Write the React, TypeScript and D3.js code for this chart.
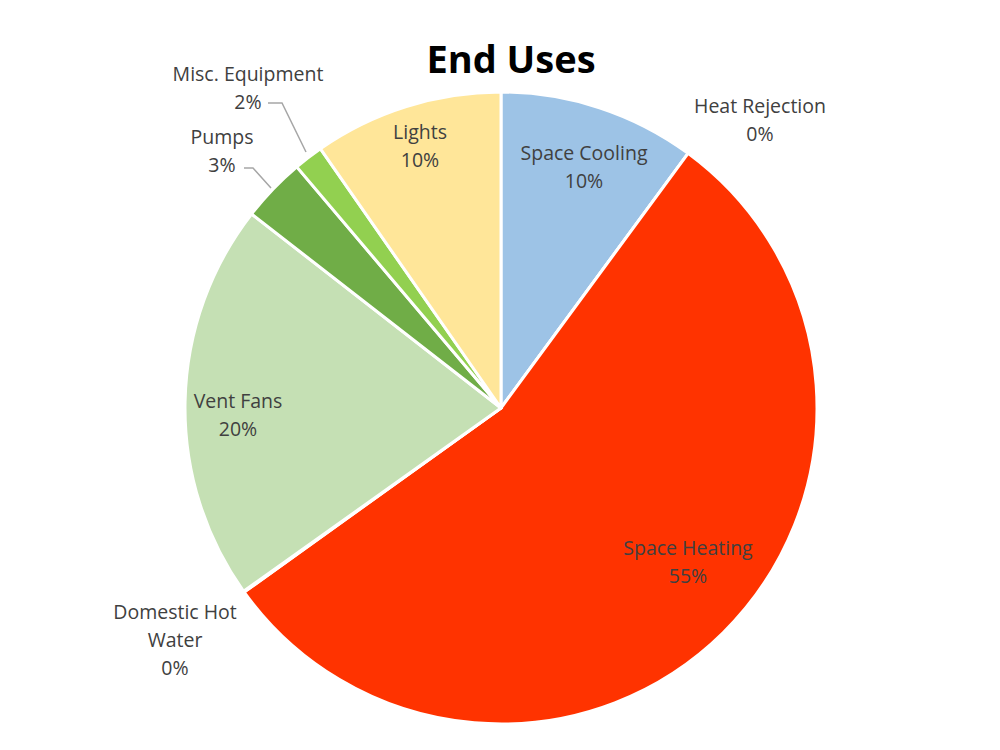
import * as d3 from "d3"
import { useRef, useEffect } from "react"

const categories = [
  "Space Cooling",
  "Heat Rejection",
  "Space Heating",
  "Domestic Hot Water",
  "Vent Fans",
  "Pumps",
  "Misc. Equipment",
  "Lights",
]
const shares = [10.1, 0.0, 55.1, 0.05, 20.4, 3.3, 1.5, 9.7]
const percentLabels = ["10%", "0%", "55%", "0%", "20%", "3%", "2%", "10%"]
const colors = ["#9DC3E6", "#C55A11", "#FF3300", "#5B9BD5", "#C5E0B4", "#70AD47", "#92D050", "#FFE699"]

type Slice = { name: string; value: number; pct: string; color: string }

// label anchor points relative to pie center, and text lines
const labelSpots: Record<string, { dx: number; dy: number; lines: string[] }> = {
  "Space Cooling": { dx: 83, dy: -241, lines: ["Space Cooling"] },
  "Heat Rejection": { dx: 259, dy: -288, lines: ["Heat Rejection"] },
  "Space Heating": { dx: 187, dy: 154, lines: ["Space Heating"] },
  "Domestic Hot Water": { dx: -326, dy: 232, lines: ["Domestic Hot", "Water"] },
  "Vent Fans": { dx: -263, dy: 7, lines: ["Vent Fans"] },
  Pumps: { dx: -279, dy: -257, lines: ["Pumps"] },
  "Misc. Equipment": { dx: -253, dy: -320, lines: ["Misc. Equipment"] },
  Lights: { dx: -81, dy: -262, lines: ["Lights"] },
}

// leader lines for the small outside labels
const leaders: Record<string, [number, number][]> = {
  Pumps: [[-257, -240], [-248, -240], [-230, -220]],
  "Misc. Equipment": [[-233, -305], [-219, -305], [-195, -256]],
}

export default function App() {
  const svgRef = useRef<SVGSVGElement>(null)

  useEffect(() => {
    if (!svgRef.current) return
    const width = 1000
    const height = 750
    const cx = 501
    const cy = 408
    const radius = 316

    const data: Slice[] = categories.map((c, i) => ({
      name: c,
      value: shares[i],
      pct: percentLabels[i],
      color: colors[i],
    }))

    const svg = d3.select(svgRef.current)
    svg.selectAll("*").remove()
    svg.attr("width", width).attr("height", height).attr("viewBox", `0 0 ${width} ${height}`)

    svg.append("rect").attr("width", width).attr("height", height).attr("fill", "#FFFFFF")

    svg
      .append("text")
      .attr("x", 511)
      .attr("y", 73)
      .attr("text-anchor", "middle")
      .style("font-family", "'Open Sans', sans-serif")
      .style("font-weight", 700)
      .style("font-size", "38px")
      .style("fill", "#000000")
      .text("End Uses")

    const pie = d3
      .pie<Slice>()
      .value((d) => d.value)
      .sort(null)

    const arc = d3.arc<d3.PieArcDatum<Slice>>().innerRadius(0).outerRadius(radius)

    const g = svg.append("g").attr("transform", `translate(${cx},${cy})`)

    g.selectAll("path.slice")
      .data(pie(data))
      .enter()
      .append("path")
      .attr("class", "slice")
      .attr("d", arc)
      .attr("fill", (d) => d.data.color)
      .attr("stroke", "#FFFFFF")
      .attr("stroke-width", 3)
      .attr("stroke-linejoin", "round")

    Object.entries(leaders).forEach(([, pts]) => {
      g.append("path")
        .attr("d", d3.line()(pts))
        .attr("fill", "none")
        .attr("stroke", "#A6A6A6")
        .attr("stroke-width", 1.5)
    })

    const lineH = 28
    data.forEach((d) => {
      const spot = labelSpots[d.name]
      const lines = [...spot.lines, d.pct]
      const top = spot.dy - ((lines.length - 1) * lineH) / 2
      const t = g
        .append("text")
        .attr("text-anchor", "middle")
        .style("font-family", "'Open Sans', sans-serif")
        .style("font-size", "19.5px")
        .style("fill", "#404040")
      lines.forEach((ln, i) => {
        t.append("tspan")
          .attr("x", spot.dx)
          .attr("y", top + i * lineH)
          .attr("dy", "0.35em")
          .text(ln)
      })
    })
  }, [])

  return <svg ref={svgRef} style={{ display: "block", margin: "-8px" }}></svg>
}
